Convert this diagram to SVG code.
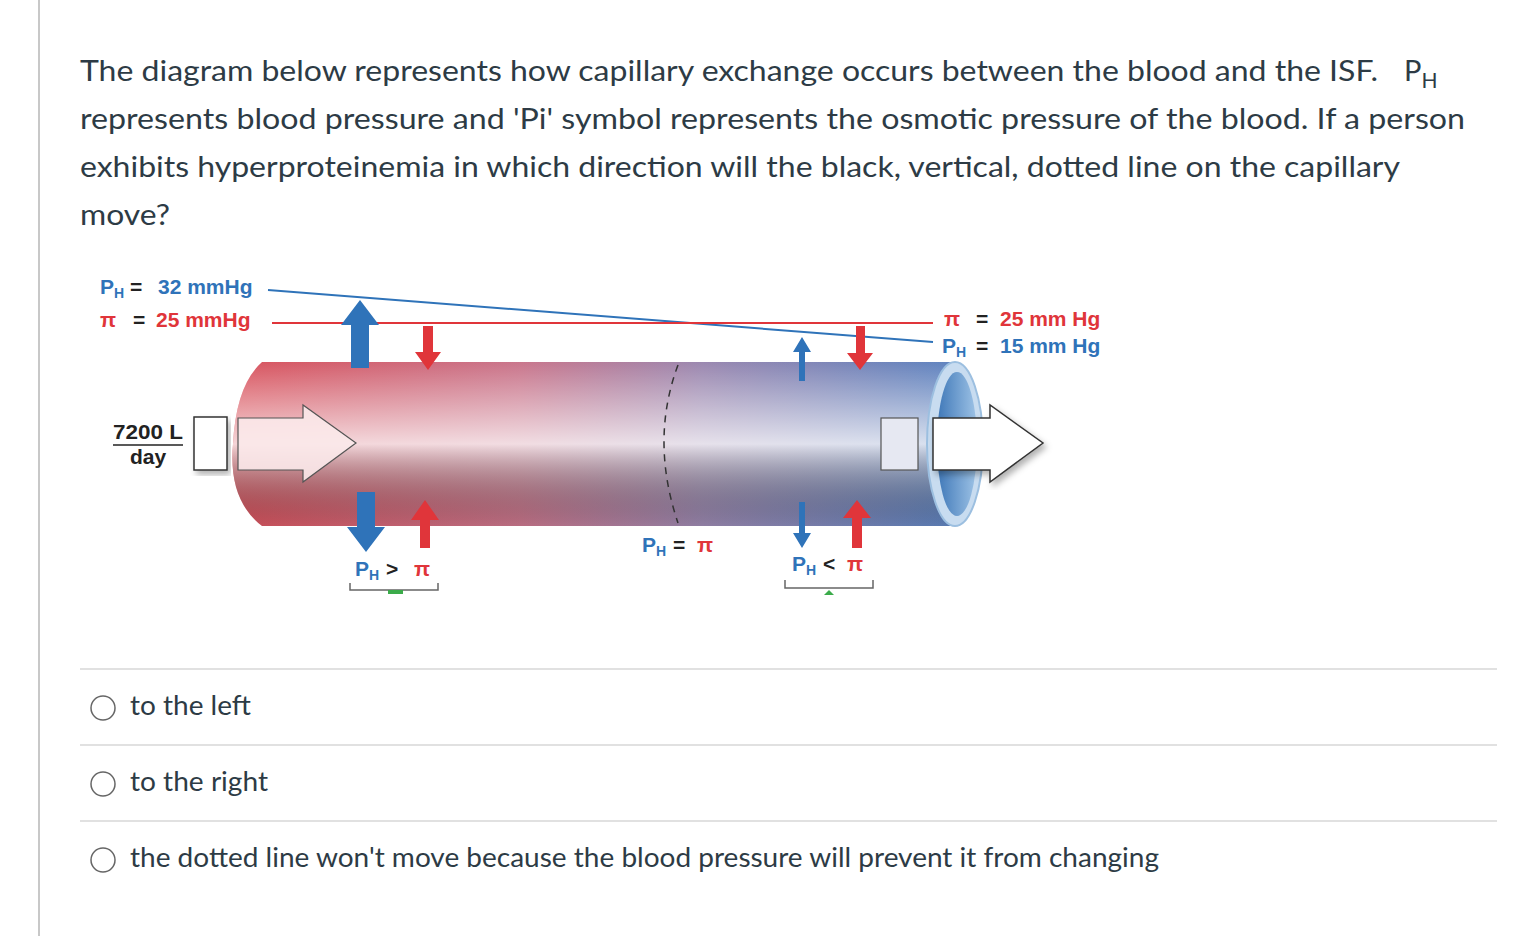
<svg xmlns="http://www.w3.org/2000/svg" width="1520" height="936" viewBox="0 0 1520 936">
<defs>
<linearGradient id="tubeH" x1="0" x2="1" y1="0" y2="0">
<stop offset="0" stop-color="#d9545e"/><stop offset="0.4" stop-color="#c9768c"/><stop offset="0.65" stop-color="#9b88b0"/><stop offset="1" stop-color="#5f84c0"/>
</linearGradient>
<linearGradient id="shine" x1="0" x2="0" y1="0" y2="1">
<stop offset="0" stop-color="#fff" stop-opacity="0"/><stop offset="0.5" stop-color="#fff" stop-opacity="0.75"/><stop offset="1" stop-color="#000" stop-opacity="0.08"/>
</linearGradient>
<linearGradient id="inner" x1="0" x2="1"><stop offset="0" stop-color="#3f78b8"/><stop offset="1" stop-color="#9ec3e6"/></linearGradient>
<filter id="sh"><feDropShadow dx="3" dy="4" stdDeviation="3" flood-opacity="0.3"/></filter>
</defs>
<style>
.q{font-family:Lato,"Open Sans",sans-serif;font-size:29px;fill:#2d3b45}
.o{font-family:Lato,"Open Sans",sans-serif;font-size:27px;fill:#2d3b45}
.l{font-family:"Liberation Sans",Arial,sans-serif;font-weight:bold;font-size:21px}
.b{fill:#2f73b9}.r{fill:#e0353a}.k{fill:#222}
.sep{stroke:#d7d7d7;stroke-width:1.5}
.rad{fill:#fff;stroke:#666;stroke-width:1.5}
</style>
<rect width="1520" height="936" fill="#fff"/>
<line x1="39" y1="0" x2="39" y2="936" stroke="#c8c8c8" stroke-width="2"/>
<g id="question">
<text class="q" x="80" y="81" textLength="1298" lengthAdjust="spacingAndGlyphs">The diagram below represents how capillary exchange occurs between the blood and the ISF.</text>
<text class="q" x="1404" y="81">P<tspan font-size="21" dy="7">H</tspan></text>
<text class="q" x="80" y="129" textLength="1385" lengthAdjust="spacingAndGlyphs">represents blood pressure and 'Pi' symbol represents the osmotic pressure of the blood.  If a person</text>
<text class="q" x="80" y="177" textLength="1320" lengthAdjust="spacingAndGlyphs">exhibits hyperproteinemia in which direction will the black, vertical, dotted line on the capillary</text>
<text class="q" x="80" y="225" textLength="90" lengthAdjust="spacingAndGlyphs">move?</text>
</g>
<g id="tube">
<path d="M262,362 L955,362 L955,526 L262,526 Q228,500 233,444 Q236,385 262,362 Z" fill="url(#tubeH)"/>
<path d="M262,362 L955,362 L955,526 L262,526 Q228,500 233,444 Q236,385 262,362 Z" fill="url(#shine)"/>
<ellipse cx="955" cy="444" rx="28" ry="82" fill="#c8dcf0" stroke="#9cbfe0" stroke-width="2"/>
<ellipse cx="957" cy="444" rx="20" ry="72" fill="url(#inner)"/>
<path d="M678,365 Q650,440 678,523" fill="none" stroke="#333" stroke-width="1.5" stroke-dasharray="7,6"/>
</g>
<g id="flow-in">
<rect x="194" y="417" width="33" height="53" fill="#fff" stroke="#333" stroke-width="1.5" filter="url(#sh)"/>
<path d="M238,418 L303,418 L303,405 L356,443 L303,482 L303,470 L238,470 Z" fill="#fbe9ea" fill-opacity="0.9" stroke="#555" stroke-width="1.2"/>
<text class="l k" x="113" y="439" font-size="19" textLength="70" lengthAdjust="spacingAndGlyphs">7200 L</text>
<line x1="113" y1="445" x2="183" y2="445" stroke="#222" stroke-width="1.5"/>
<text class="l k" x="148" y="464" font-size="19" text-anchor="middle">day</text>
</g>
<g id="flow-out">
<rect x="881" y="418" width="37" height="52" fill="#e6e8f2" stroke="#555" stroke-width="1.2"/>
<path d="M933,418 L990,418 L990,405 L1043,443 L990,482 L990,470 L933,470 Z" fill="#fff" stroke="#333" stroke-width="1.5" filter="url(#sh)"/>
</g>
<g id="connectors">
<line x1="268" y1="290" x2="933" y2="342" stroke="#2f73b9" stroke-width="2"/>
<line x1="272" y1="323" x2="933" y2="323" stroke="#e0353a" stroke-width="2"/>
<path class="b" d="M351,368 L351,325 L341,325 L360,300 L379,325 L369,325 L369,368 Z"/>
<path class="r" d="M423,326 L433,326 L433,352 L441,352 L428,370 L415,352 L423,352 Z"/>
<path class="b" d="M357,492 L375,492 L375,527 L385,527 L366,552 L347,527 L357,527 Z"/>
<path class="r" d="M420,548 L430,548 L430,520 L439,520 L425,500 L411,520 L420,520 Z"/>
<path class="b" d="M799,381 L805,381 L805,352 L811,352 L802,337 L793,352 L799,352 Z"/>
<path class="r" d="M856,326 L865,326 L865,353 L873,353 L860,370 L847,353 L856,353 Z"/>
<path class="b" d="M799,502 L805,502 L805,533 L811,533 L802,548 L793,533 L799,533 Z"/>
<path class="r" d="M852,548 L862,548 L862,518 L871,518 L857,500 L843,518 L852,518 Z"/>
</g>
<g id="labels">
<text class="l b" x="100" y="294">P<tspan font-size="14" dy="4">H</tspan><tspan class="k" dy="-4"> = </tspan><tspan x="158">32 mmHg</tspan></text>
<text class="l r" x="100" y="327">π<tspan class="k" x="133">=</tspan><tspan x="156">25 mmHg</tspan></text>
<text class="l r" x="944" y="326">π<tspan class="k" x="976">=</tspan><tspan x="1000">25 mm Hg</tspan></text>
<text class="l b" x="942" y="353">P<tspan font-size="14" dy="4">H</tspan><tspan class="k" dy="-4" x="976">=</tspan><tspan x="1000">15 mm Hg</tspan></text>
<text class="l b" x="355" y="576">P<tspan font-size="14" dy="4">H</tspan><tspan class="k" dy="-4" x="386">&gt;</tspan><tspan class="r" x="414">π</tspan></text>
<path d="M350,583 L350,590 L438,590 L438,583" fill="none" stroke="#666" stroke-width="1.5"/>
<rect x="388" y="590" width="15" height="4" fill="#3bab4a"/>
<text class="l b" x="642" y="552">P<tspan font-size="14" dy="4">H</tspan><tspan class="k" dy="-4" x="673">=</tspan><tspan class="r" x="697">π</tspan></text>
<text class="l b" x="792" y="571">P<tspan font-size="14" dy="4">H</tspan><tspan class="k" dy="-4" x="823">&lt;</tspan><tspan class="r" x="847">π</tspan></text>
<path d="M785,580 L785,588 L873,588 L873,580" fill="none" stroke="#666" stroke-width="1.5"/>
<path d="M824,595 L829,590 L834,595 Z" fill="#3bab4a"/>
</g>
<g id="options">
<line class="sep" x1="80" y1="669" x2="1497" y2="669"/>
<circle class="rad" cx="103" cy="708" r="12"/>
<text class="o" x="130" y="715" textLength="121" lengthAdjust="spacingAndGlyphs">to the left</text>
<line class="sep" x1="80" y1="745" x2="1497" y2="745"/>
<circle class="rad" cx="103" cy="784" r="12"/>
<text class="o" x="130" y="791" textLength="138" lengthAdjust="spacingAndGlyphs">to the right</text>
<line class="sep" x1="80" y1="821" x2="1497" y2="821"/>
<circle class="rad" cx="103" cy="860" r="12"/>
<text class="o" x="130" y="867" textLength="1029" lengthAdjust="spacingAndGlyphs">the dotted line won't move because the blood pressure will prevent it from changing</text>
</g>
</svg>
